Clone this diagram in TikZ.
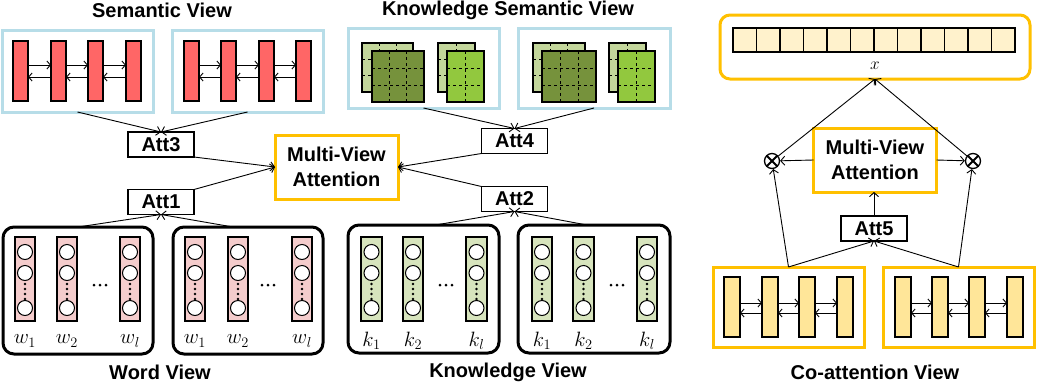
\documentclass[tikz,border=0pt]{standalone}
\usepackage{fontspec}
\setmainfont{Liberation Sans}
\usetikzlibrary{arrows.meta,calc}
\definecolor{lblue}{HTML}{B7DDE8}
\definecolor{redbarc}{HTML}{FF6666}
\definecolor{orng}{HTML}{FFC000}
\definecolor{ybar}{HTML}{FFE699}
\definecolor{ycell}{HTML}{FFF2CC}
\definecolor{pinkc}{HTML}{F4CCCC}
\definecolor{greenc}{HTML}{D7E4BD}
\definecolor{gback}{HTML}{C3D69B}
\definecolor{gdark}{HTML}{76923C}
\definecolor{gbright}{HTML}{92C83E}
\newcommand\pbox[6]{\node[#6, anchor=north west, minimum width={(#4-#2)*1pt}, minimum height={(#5-#3)*1pt}] (#1) at (#2,#3) {};}
\newcommand\gridsq[7]{%
  \draw[line width=1.5pt, fill=#7] (#1,#2) rectangle (#3,#4);
  \foreach \i in {1,...,#5} {\ifnum\i<#5 \draw[dashed, line width=0.8pt] ({#1+(#3-#1)*\i/#5},#2) -- ({#1+(#3-#1)*\i/#5},#4);\fi}
  \foreach \i in {1,...,#6} {\ifnum\i<#6 \draw[dashed, line width=0.8pt] (#1,{#2+(#4-#2)*\i/#6}) -- (#3,{#2+(#4-#2)*\i/#6});\fi}
}
\begin{document}
\begin{tikzpicture}[x=1pt,y=-1pt,
  bfont/.style={font=\fontsize{20}{25}\selectfont\bfseries},
  title/.style={bfont},
  attbox/.style={draw, line width=1.2pt, fill=white, bfont, minimum width=66pt, minimum height=25pt, inner sep=0pt, outer sep=0pt},
  mvabox/.style={draw=orng, line width=3pt, fill=white, bfont, align=center, minimum width=123pt, minimum height=64pt, inner sep=0pt, outer sep=0pt},
  bluebox/.style={draw=lblue, line width=3pt, inner sep=0pt, outer sep=0pt},
  wordbox/.style={draw, line width=3pt, rounded corners=11pt, inner sep=0pt, outer sep=0pt},
  orbox/.style={draw=orng, line width=3pt, inner sep=0pt, outer sep=0pt},
  orround/.style={draw=orng, line width=3pt, rounded corners=10pt, inner sep=0pt, outer sep=0pt},
  redbar/.style={draw, line width=1.5pt, fill=redbarc, inner sep=0pt, outer sep=0pt},
  ybarst/.style={draw, line width=1.5pt, fill=ybar, inner sep=0pt, outer sep=0pt},
  pcol/.style={draw, line width=1.5pt, fill=pinkc, inner sep=0pt, outer sep=0pt},
  gcol/.style={draw, line width=1.5pt, fill=greenc, inner sep=0pt, outer sep=0pt},
  circ/.style={draw, circle, line width=1pt, fill=white, minimum size=15pt, inner sep=0pt},
  arr/.style={-{Straight Barb[length=4pt,width=9pt]}, line width=0.9pt},
  sarr/.style={-{Straight Barb[length=3.5pt,width=8pt]}, line width=0.9pt},
  otimes/.style={draw, circle, line width=1.3pt, fill=white, minimum size=15pt, inner sep=0pt,
    path picture={\draw[line width=1.8pt] (path picture bounding box.north east) -- (path picture bounding box.south west)
      (path picture bounding box.north west) -- (path picture bounding box.south east);}},
  mlab/.style={font=\fontsize{21}{22}\selectfont},
]
\useasboundingbox (0,0) rectangle (1037,384);

% ---------- titles ----------
\node[title] (t1) at (162,10) {Semantic View};
\node[title] (t2) at (508,10) {Knowledge Semantic View};
\node[title] (t3) at (160,372) {Word View};
\node[title] (t4) at (508,372) {Knowledge View};
\node[title] (t5) at (875,372) {Co-attention View};

% ---------- semantic view ----------
\pbox{semL}{2}{30}{153}{112}{bluebox}
\pbox{semR}{172}{30}{323}{112}{bluebox}
\foreach \n/\x in {1/13,2/51,3/88,4/126} {\pbox{sL\n}{\x}{41}{\x+15}{101}{redbar}}
\foreach \n/\x in {1/184,2/221,3/259,4/296} {\pbox{sR\n}{\x}{41}{\x+15}{101}{redbar}}
\foreach \p in {sL,sR} {
  \foreach \i/\j in {1/2,2/3,3/4} {
    \draw[sarr] (\p\i.east |- 0,65) -- (\p\j.west |- 0,65);
    \draw[sarr] (\p\j.west |- 0,77) -- (\p\i.east |- 0,77);
  }
}

% ---------- knowledge semantic view ----------
\pbox{ksL}{348}{28}{499}{108}{bluebox}
\pbox{ksR}{518}{28}{670}{108}{bluebox}
\gridsq{362}{43}{413}{92}{3}{3}{gback}
\gridsq{372}{51}{424}{102}{3}{3}{gdark}
\gridsq{438}{43}{475}{92}{2}{3}{gback}
\gridsq{447}{51}{484}{102}{2}{3}{gbright}
\gridsq{533}{43}{585}{92}{3}{3}{gback}
\gridsq{542}{51}{596}{102}{3}{3}{gdark}
\gridsq{609}{43}{646}{92}{2}{3}{gback}
\gridsq{618}{51}{655}{102}{2}{3}{gbright}

% ---------- word & knowledge view ----------
\pbox{wL}{3}{227}{153}{354}{wordbox}
\pbox{wR}{173}{227}{323}{354}{wordbox}
\pbox{kL}{348}{225}{499}{353}{wordbox}
\pbox{kR}{518}{225}{670}{353}{wordbox}
\foreach \pre/\x/\w/\st/\lab in {
   wa/15/20/pcol/w_1, wb/57/20/pcol/w_2, wc/120/20/pcol/w_l,
   wd/185/20/pcol/w_1, we/228/20/pcol/w_2, wf/292/20/pcol/w_l,
   ka/361/21/gcol/k_1, kb/403/20/gcol/k_2, kc/466/21/gcol/k_l,
   kd/532/20/gcol/k_1, ke/573/21/gcol/k_2, kf/637/20/gcol/k_l} {
  \pbox{\pre}{\x}{237}{\x+\w}{321}{\st}
  \node[circ] (\pre c1) at ({\x+\w/2},252) {};
  \node[circ] (\pre c2) at ({\x+\w/2},273) {};
  \node[circ] (\pre c3) at ({\x+\w/2},308) {};
  \foreach \yy in {284,289,294,299} {\fill ({\x+\w/2},\yy) circle (1.4pt);}
  \node[mlab] (\pre l) at ({\x+\w/2},341) {$\lab$};
}
\foreach \cx in {100,268,446,617} {
  \foreach \dx in {-6,0,6} {\fill ({\cx+\dx},285) circle (1.5pt);}
}

% ---------- attention boxes ----------
\node[attbox] (att3) at (161,144.5) {Att3};
\node[attbox] (att1) at (161,202) {Att1};
\node[attbox] (att4) at (514.5,141) {Att4};
\node[attbox] (att2) at (514.5,199) {Att2};
\node[mvabox] (mva) at (336.5,167) {Multi-View\\Attention};

\draw[arr] (semL.south) -- (att3.north);
\draw[arr] (semR.south) -- (att3.north);
\draw[arr] (ksL.south) -- (att4.north);
\draw[arr] (ksR.south) -- (att4.north);
\draw[arr] (wL.north) -- (att1.south);
\draw[arr] ([xshift=-15pt]wR.north) -- (att1.south);
\draw[arr] ([xshift=12pt]kL.north) -- (att2.south);
\draw[arr] ([xshift=-7pt]kR.north) -- (att2.south);
\draw[arr] (att3.south east) -- (mva.west);
\draw[arr] (att1.north east) -- (mva.west);
\draw[arr] (att4.south west) -- (mva.east);
\draw[arr] (att2.north west) -- (mva.east);

% ---------- co-attention view ----------
\pbox{top}{720}{15}{1030}{79}{orround}
\foreach \i in {0,...,11} {
  \draw[line width=1.5pt, fill=ycell] ({733+\i*23.5},28) rectangle ({733+(\i+1)*23.5},52);
}
\node[mlab, font=\fontsize{19}{20}\selectfont] (xl) at (875,66) {$x$};
\pbox{cL}{713}{267}{864}{347}{orbox}
\pbox{cR}{883}{267}{1034}{347}{orbox}
\foreach \n/\x in {1/724,2/762,3/799,4/837} {\pbox{cL\n}{\x}{277}{\x+16}{337}{ybarst}}
\foreach \n/\x in {1/895,2/932,3/969,4/1007} {\pbox{cR\n}{\x}{277}{\x+16}{337}{ybarst}}
\foreach \p in {cL,cR} {
  \foreach \i/\j in {1/2,2/3,3/4} {
    \draw[sarr] (\p\i.east |- 0,303) -- (\p\j.west |- 0,303);
    \draw[sarr] (\p\j.west |- 0,313) -- (\p\i.east |- 0,313);
  }
}
\node[mvabox] (mva2) at (875,160) {Multi-View\\Attention};
\node[attbox] (att5) at (874,228.5) {Att5};
\node[otimes] (oL) at (772,161) {};
\node[otimes] (oR) at (973,161) {};

\draw[arr] (cL.north) -- (att5.south);
\draw[arr] (cR.north) -- (att5.south);
\draw[arr] (att5.north) -- (att5.north |- mva2.south);
\draw[arr] (mva2.west) -- (oL);
\draw[arr] (mva2.east) -- (oR);
\draw[arr] (cL.north) -- (oL);
\draw[arr] (cR.north) -- (oR);
\draw[arr] (oL) -- (top.south);
\draw[arr] (oR) -- (top.south);
\end{tikzpicture}
\end{document}
